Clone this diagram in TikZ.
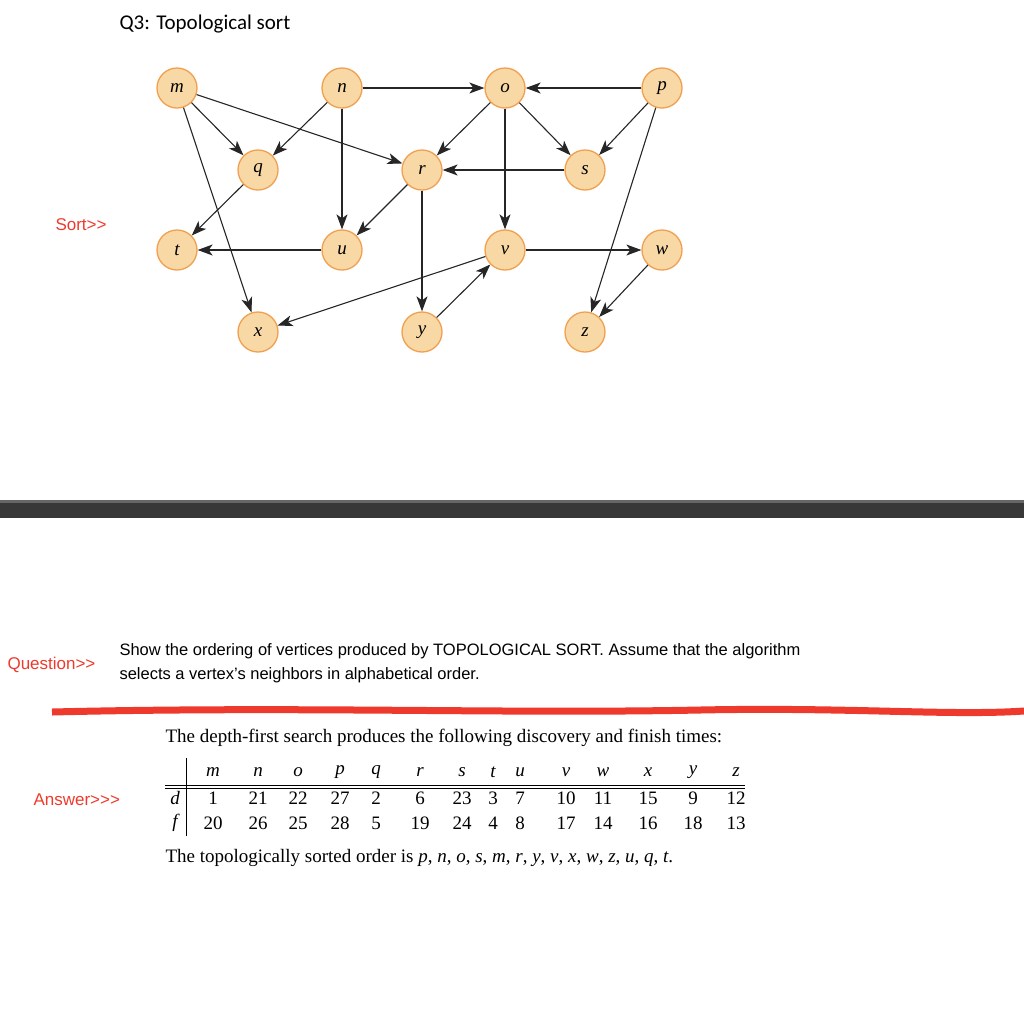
\documentclass[tikz,border=0pt]{standalone}
\usepackage{fontspec}
\setmainfont{Liberation Serif}
\setsansfont{Liberation Sans}
\newfontfamily\calib{Carlito}
\usetikzlibrary{arrows.meta}
\definecolor{peach}{HTML}{F8D9A6}
\definecolor{ring}{HTML}{F0A050}
\definecolor{lred}{HTML}{EE3A2C}
\begin{document}
\begin{tikzpicture}[x=1pt,y=-1pt,
  vert/.style={circle,draw=ring,line width=1.3pt,fill=peach,minimum size=40pt,inner sep=0pt,font=\fontsize{19}{19}\selectfont\itshape},
  edge/.style={-{Stealth[length=15pt,width=11pt,inset=4pt]},line width=1.1pt,black!85},
  red/.style={text=lred,font=\sffamily\fontsize{17}{17}\selectfont,anchor=west},
  tab/.style={font=\fontsize{19}{19}\selectfont},
  itab/.style={font=\fontsize{19}{19}\selectfont\itshape}]
\useasboundingbox (0,0) rectangle (1024,1018);
\node[anchor=west,font=\calib\fontsize{21}{21}\selectfont] (title) at (116,24) {Q3: Topological sort};
\node[red] (sort) at (52,225) {Sort{>}{>}};
\node (m) [vert] at (177,88) {m};
\node (n) [vert] at (342,88) {n};
\node (o) [vert] at (505,88) {o};
\node (p) [vert] at (662,88) {p};
\node (q) [vert] at (258,170) {q};
\node (r) [vert] at (422,170) {r};
\node (s) [vert] at (585,170) {s};
\node (t) [vert] at (177,250) {t};
\node (u) [vert] at (342,250) {u};
\node (v) [vert] at (505,250) {v};
\node (w) [vert] at (662,250) {w};
\node (x) [vert] at (258,332) {x};
\node (y) [vert] at (422,332) {y};
\node (z) [vert] at (585,332) {z};
\foreach \a/\b in {m/q,m/r,m/x,n/q,n/u,n/o,o/r,o/v,o/s,p/o,p/s,p/z,q/t,r/u,r/y,s/r,u/t,v/w,v/x,y/v,w/z}
  \draw[edge] (\a) -- (\b);
\fill[black!78] (0,500) rectangle (1024,518);
\fill[black!60] (0,500) rectangle (1024,503);
\node[red] (qlab) at (4,665) {Question{>}{>}};
\node[anchor=west,font=\sffamily\fontsize{16.5}{24}\selectfont,align=left] (qtext) at (116,663) {Show the ordering of vertices produced by TOPOLOGICAL SORT. Assume that the algorithm\\selects a vertex's neighbors in alphabetical order.};
\draw[lred,line width=7pt] (52,712) .. controls (300,706) and (500,714) .. (700,710) .. controls (850,707) and (950,716) .. (1024,711);
\node[red] (alab) at (30,800) {Answer{>}{>}{>}};
\node[anchor=west,tab] (intro) at (162,738) {The depth-first search produces the following discovery and finish times:};
\foreach \c/\xx/\dd/\ff in {m/213/1/20,n/258/21/26,o/298/22/25,p/340/27/28,q/376/2/5,r/420/6/19,s/462/23/24,t/493/3/4,u/520/7/8,v/566/10/17,w/603/11/14,x/648/15/16,y/693/9/18,z/736/12/13}{
  \node[itab] at (\xx,772) {\c};
  \node[tab] at (\xx,798) {\dd};
  \node[tab] at (\xx,823) {\ff};}
\node[itab] (dl) at (175,798) {d};
\node[itab] (fl) at (175,823) {f};
\draw[line width=0.8pt] (186,758) -- (186,836);
\draw[line width=0.8pt] (165,785) -- (745,785) (165,788) -- (745,788);
\node[anchor=west,tab] (concl) at (162,858) {The topologically sorted order is \textit{p}, \textit{n}, \textit{o}, \textit{s}, \textit{m}, \textit{r}, \textit{y}, \textit{v}, \textit{x}, \textit{w}, \textit{z}, \textit{u}, \textit{q}, \textit{t}.};
\end{tikzpicture}
\end{document}
